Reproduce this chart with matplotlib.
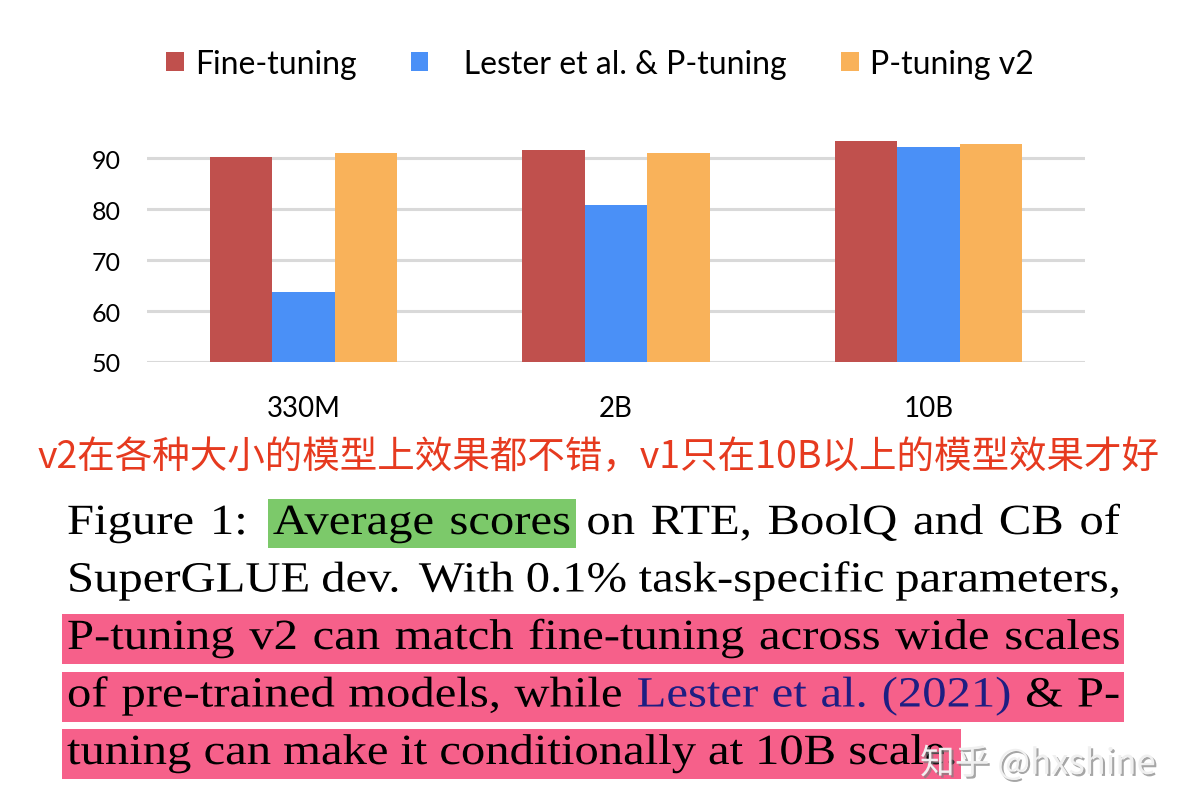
import matplotlib
matplotlib.use('Agg')
import matplotlib.pyplot as plt
from matplotlib.patches import Rectangle, Patch
import matplotlib.patheffects as pe
from matplotlib.transforms import Affine2D
import numpy as np

# ---------------- data ----------------
categories = ['330M', '2B', '10B']
series_names = ['Fine-tuning', 'Lester et al. & P-tuning', 'P-tuning v2']
fine_tuning = [90.2, 91.6, 93.5]
lester_ptuning = [63.8, 80.9, 92.2]
ptuning_v2 = [91.0, 91.0, 92.9]
y_ticks = [50, 60, 70, 80, 90]
series_colors = ['#C0504D', '#4A90F7', '#F9B25A']

annotation_zh = 'v2在各种大小的模型上效果都不错，v1只在10B以上的模型效果才好'
caption_lines = [
    "Figure 1: Average scores on RTE, BoolQ and CB of",
    "SuperGLUE dev. With 0.1% task-specific parameters,",
    "P-tuning v2 can match fine-tuning across wide scales",
    "of pre-trained models, while Lester et al. (2021) & P-",
    "tuning can make it conditionally at 10B scale.",
]
link_words = {3: [4, 5, 6, 7]}
green_span = (0, 2, 3)
pink_lines = [2, 3, 4]
watermark = '知乎 @hxshine'

W, H = 1198, 812
fig = plt.figure(figsize=(W / 100, H / 100), dpi=100)
fig.patch.set_facecolor('white')
renderer = fig.canvas.get_renderer()


def fx(px):
    return px / W


def fy(py):
    return 1 - py / H


class HStretch(pe.AbstractPathEffect):
    """Stretch glyph outlines horizontally around a fixed x (display px)."""

    def __init__(self, sx, x0):
        super().__init__()
        self.sx = sx
        self.x0 = x0

    def draw_path(self, renderer, gc, tpath, affine, rgbFace=None):
        a = affine + Affine2D().translate(-self.x0, 0).scale(self.sx, 1).translate(self.x0, 0)
        renderer.draw_path(gc, tpath, a, rgbFace)


# ---------------- chart ----------------
ax = fig.add_axes([fx(147), fy(363), fx(1085) - fx(147), fy(134) - fy(363)])
x = np.arange(len(categories))
bw = 0.2
series = [fine_tuning, lester_ptuning, ptuning_v2]
handles = []
for i, (vals, col) in enumerate(zip(series, series_colors)):
    ax.bar(x + (i - 1) * bw, np.array(vals) - 50, bw, bottom=50, color=col, zorder=3)
    handles.append(Patch(facecolor=col, edgecolor='none'))
ax.set_xlim(-0.5, 2.5)
ax.set_ylim(50, 95)
ax.set_yticks(y_ticks)
ax.set_yticklabels([str(v) for v in y_ticks], fontfamily='Lato', fontsize=18)
ax.set_xticks(x)
ax.set_xticklabels(categories, fontfamily='Lato', fontsize=20)
ax.tick_params(axis='y', length=0, pad=19)
ax.tick_params(axis='x', length=0, pad=24)
ax.yaxis.grid(True, color='#D9D9D9', lw=2.2, zorder=0)
ax.set_axisbelow(True)
for s in ax.spines.values():
    s.set_visible(False)

labels = [series_names[0], '   ' + series_names[1], series_names[2]]
fig.legend(handles, labels, loc='center', bbox_to_anchor=(fx(600), fy(65)), ncol=3,
           frameon=False, prop={'family': 'Lato', 'size': 23},
           handlelength=0.55, handleheight=0.55, handletextpad=0.35, columnspacing=1.7)

# ---------------- red Chinese annotation ----------------
zh = fig.text(fx(38), fy(458), annotation_zh, fontsize=26, color='#E63A1F',
              family=['Noto Sans CJK SC', 'DejaVu Sans'], va='center', ha='left')
wz = zh.get_window_extent(renderer).width
zh.set_fontsize(26 * 1124 / wz)

# ---------------- caption ----------------
cap_font = dict(family='Liberation Serif', fontsize=31)
SX = 1.13
left, right = 67, 1120
baselines = [535, 592.5, 650, 707.5, 765]


def width_of(s):
    t = fig.text(0, 0, s, **cap_font)
    w = t.get_window_extent(renderer).width
    t.remove()
    return w * SX


space_w = width_of('a a') - width_of('aa')

for li, line in enumerate(caption_lines):
    words = line.split(' ')
    widths = [width_of(w) for w in words]
    weights = []
    for w in words[:-1]:
        weights.append(1.6 if w.endswith(':') or w == 'dev.' else 1.0)
    if li < len(caption_lines) - 1:
        unit = (right - left - sum(widths)) / sum(weights)
    else:
        unit = space_w
    xs = []
    cur = left
    for k, w in enumerate(words):
        xs.append(cur)
        cur += widths[k] + (weights[k] * unit if k < len(weights) else 0)
    end_x = xs[-1] + widths[-1]
    by = baselines[li]
    if li in pink_lines:
        rr = right + 4 if li < len(caption_lines) - 1 else end_x + 4
        fig.patches.append(Rectangle((fx(62), fy(by + 15)), fx(rr) - fx(62), 50 / H,
                                     transform=fig.transFigure, facecolor='#F6608A',
                                     edgecolor='none', zorder=0))
    if li == green_span[0]:
        gx0 = xs[green_span[1]] - 5
        gx1 = xs[green_span[2]] + widths[green_span[2]] + 5
        fig.patches.append(Rectangle((fx(gx0), fy(by + 14)), fx(gx1) - fx(gx0), 49 / H,
                                     transform=fig.transFigure, facecolor='#7CC96A',
                                     edgecolor='none', zorder=0))
    for k, w in enumerate(words):
        col = '#1E1E82' if k in link_words.get(li, []) else 'black'
        fig.text(fx(xs[k]), fy(by), w, color=col, va='baseline', ha='left', zorder=2,
                 path_effects=[HStretch(SX, xs[k])], **cap_font)

# ---------------- watermark ----------------
fig.text(fx(920), fy(765), watermark, fontsize=25, color='#F0F0F0',
         family=['Noto Sans CJK SC', 'DejaVu Sans'], va='center', ha='left', zorder=5,
         path_effects=[pe.withSimplePatchShadow(offset=(1.5, -1.5), shadow_rgbFace='#808080', alpha=0.7)])

fig.savefig('out.png', dpi=100, facecolor='white')
